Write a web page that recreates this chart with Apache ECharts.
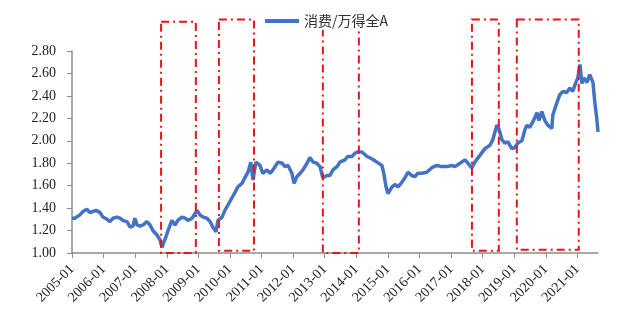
<!DOCTYPE html>
<html><head><meta charset="utf-8">
<script src="https://cdn.jsdelivr.net/npm/echarts@6/dist/echarts.min.js"></script>
<style>html,body{margin:0;padding:0;background:#fff}#c{width:631px;height:314px}</style>
</head><body><div id="c"></div>
<script>
// time as decimal years
const dates = [2005.00,2005.09,2005.25,2005.35,2005.47,2005.57,2005.66,2005.76,2005.89,2005.98,
2006.11,2006.20,2006.30,2006.42,2006.52,2006.61,2006.74,2006.84,2006.93,2006.99,
2007.06,2007.15,2007.25,2007.37,2007.47,2007.56,2007.69,2007.78,2007.85,2007.91,2007.97,
2008.04,2008.16,2008.26,2008.35,2008.48,2008.58,2008.67,2008.80,2008.96,
2009.05,2009.15,2009.27,2009.37,2009.46,2009.56,2009.62,2009.75,2009.84,2009.94,
2010.06,2010.16,2010.25,2010.38,2010.47,2010.57,2010.66,2010.73,2010.82,2010.95,
2011.04,2011.17,2011.27,2011.36,2011.52,2011.65,2011.74,2011.84,2011.96,
2012.03,2012.12,2012.22,2012.31,2012.44,2012.53,2012.63,2012.75,2012.85,2012.94,
2013.07,2013.16,2013.26,2013.39,2013.48,2013.64,2013.73,2013.86,2013.96,
2014.05,2014.18,2014.34,2014.49,2014.65,2014.81,2014.87,2014.94,
2015.00,2015.13,2015.22,2015.32,2015.44,2015.54,2015.63,2015.76,2015.85,2015.95,
2016.08,2016.23,2016.39,2016.55,2016.71,2016.87,
2017.03,2017.12,2017.28,2017.44,2017.53,2017.66,2017.75,2017.91,
2018.07,2018.23,2018.32,2018.45,2018.51,2018.61,2018.70,2018.80,2018.92,
2019.02,2019.11,2019.24,2019.34,2019.40,2019.49,2019.59,2019.72,2019.78,2019.87,2019.97,
2020.06,2020.19,2020.22,2020.35,2020.44,2020.54,2020.66,2020.76,2020.85,2020.95,
2021.01,2021.08,2021.14,2021.20,2021.30,2021.39,2021.49,2021.55,2021.61,2021.65];
const ratio = [1.31,1.31,1.34,1.37,1.39,1.36,1.37,1.38,1.36,1.32,
1.30,1.28,1.31,1.32,1.31,1.29,1.28,1.23,1.24,1.31,
1.25,1.24,1.25,1.28,1.25,1.20,1.16,1.12,1.05,1.10,1.14,
1.20,1.29,1.25,1.29,1.32,1.31,1.29,1.31,1.38,
1.34,1.32,1.31,1.28,1.23,1.19,1.29,1.32,1.38,1.43,
1.49,1.54,1.59,1.62,1.67,1.72,1.81,1.65,1.81,1.78,
1.71,1.74,1.71,1.74,1.81,1.80,1.77,1.78,1.71,
1.62,1.68,1.71,1.74,1.80,1.85,1.81,1.80,1.77,1.67,
1.69,1.69,1.74,1.77,1.81,1.83,1.86,1.86,1.89,
1.90,1.90,1.86,1.84,1.81,1.78,1.71,1.59,
1.53,1.59,1.61,1.59,1.63,1.67,1.72,1.69,1.68,1.71,
1.71,1.72,1.76,1.78,1.77,1.77,
1.78,1.77,1.80,1.83,1.80,1.76,1.81,1.87,
1.93,1.96,2.01,2.14,2.11,2.01,1.98,1.99,1.93,
1.94,1.98,2.00,2.10,2.14,2.12,2.17,2.25,2.18,2.26,2.18,
2.14,2.11,2.23,2.34,2.41,2.44,2.43,2.47,2.44,2.52,
2.56,2.68,2.51,2.56,2.52,2.59,2.52,2.34,2.20,2.08];
const xTicks = [2005,2006,2007,2008,2009,2010,2011,2012,2013,2014,2015,2016,2017,2018,2019,2020,2021];
const xTickLabels = ['2005-01','2006-01','2007-01','2008-01','2009-01','2010-01','2011-01','2012-01','2013-01','2014-01','2015-01','2016-01','2017-01','2018-01','2019-01','2020-01','2021-01'];
const seriesName = '消费/万得全A';
// highlighted periods (dash-dot boxes)
const boxStart = [2007.82, 2009.65, 2012.94, 2017.66, 2019.08];
const boxEnd   = [2008.92, 2010.76, 2014.08, 2018.51, 2021.04];
const boxTop   = [3.06, 3.08, 3.08, 3.08, 3.08];
const boxBottom= [1.00, 1.02, 1.00, 1.02, 1.03];

const chart = echarts.init(document.getElementById('c'));
const serif = '"Liberation Serif","Times New Roman","Noto Sans CJK SC",serif';
chart.setOption({
  animation: false,
  backgroundColor: '#fff',
  legend: {
    left: 263, top: 12,
    icon: 'rect', itemWidth: 34, itemHeight: 4, itemGap: 4,
    backgroundColor: '#fff', padding: [2, 2],
    textStyle: { fontFamily: '"Noto Sans CJK SC",sans-serif', fontSize: 14, color: '#333' },
    data: [seriesName]
  },
  grid: { left: 72, right: 33, top: 51, bottom: 61, containLabel: false },
  xAxis: {
    type: 'value', min: 2005, max: 2021.65,
    splitLine: { show: false },
    axisLine: { lineStyle: { color: '#8c8c8c', width: 1.5 } },
    axisTick: { show: true, customValues: xTicks, length: 5, lineStyle: { color: '#8c8c8c' } },
    axisLabel: {
      customValues: xTicks, rotate: 45, margin: 14,
      fontFamily: serif, fontSize: 14, color: '#222',
      formatter: v => xTickLabels[xTicks.indexOf(Math.round(v))]
    }
  },
  yAxis: {
    type: 'value', min: 1, max: 2.8, interval: 0.2,
    splitLine: { show: false },
    axisLine: { show: true, lineStyle: { color: '#8c8c8c', width: 1.5 } },
    axisTick: { show: true, length: 5, lineStyle: { color: '#8c8c8c' } },
    axisLabel: { fontFamily: serif, fontSize: 14, color: '#222', margin: 16,
      formatter: v => v.toFixed(2) }
  },
  series: [{
    name: seriesName, type: 'line', clip: false, z: 2,
    data: dates.map((d, i) => [d, ratio[i]]),
    showSymbol: false, symbol: 'none',
    lineStyle: { color: '#4472C4', width: 3.5 },
    itemStyle: { color: '#4472C4' }
  }, {
    name: 'periods', type: 'custom', clip: false, silent: true, z: 3,
    encode: { x: [0, 1], y: [2, 3] },
    data: boxStart.map((s, i) => [s, boxEnd[i], boxBottom[i], boxTop[i]]),
    renderItem: (params, api) => {
      const p1 = api.coord([api.value(0), api.value(3)]);
      const p2 = api.coord([api.value(1), api.value(2)]);
      return {
        type: 'rect',
        shape: { x: p1[0], y: p1[1], width: p2[0] - p1[0], height: p2[1] - p1[1] },
        style: { fill: 'none', stroke: '#E8141B', lineWidth: 2, lineDash: [8, 4, 2, 4] }
      };
    }
  }]
});
</script></body></html>
